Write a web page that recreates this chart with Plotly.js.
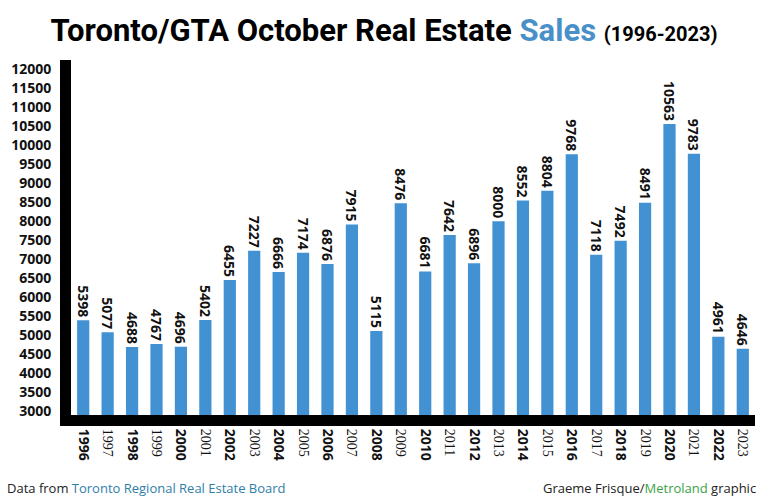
<!DOCTYPE html>
<html>
<head>
<meta charset="utf-8">
<script src="https://cdn.plot.ly/plotly-3.0.1.min.js"></script>
<style>
  html, body { margin: 0; padding: 0; background: #ffffff; }
  #chart { width: 768px; height: 500px; }
</style>
</head>
<body>
<div id="chart"></div>
<script>
// October sales, Toronto/GTA, 1996-2023
const years = [1996, 1997, 1998, 1999, 2000, 2001, 2002, 2003, 2004, 2005,
               2006, 2007, 2008, 2009, 2010, 2011, 2012, 2013, 2014, 2015,
               2016, 2017, 2018, 2019, 2020, 2021, 2022, 2023];
const sales = [5398, 5077, 4688, 4767, 4696, 5402, 6455, 7227, 6666, 7174,
               6876, 7915, 5115, 8476, 6681, 7642, 6896, 8000, 8552, 8804,
               9768, 7118, 7492, 8491, 10563, 9783, 4961, 4646];
const yTicks = [3000, 3500, 4000, 4500, 5000, 5500, 6000, 6500, 7000, 7500,
                8000, 8500, 9000, 9500, 10000, 10500, 11000, 11500, 12000];

const BAR_BLUE = '#4191d3';

// even years in bold sans, odd years in a light serif face
const yearLabels = years.map(y => y % 2 === 0
  ? '<b>' + y + '</b>'
  : '<span style="font-family:\'Liberation Serif\', serif;">' + y + '</span>');

const trace = {
  type: 'bar',
  x: years.map(String),
  y: sales,
  marker: { color: BAR_BLUE },
  text: sales.map(String),
  textposition: 'outside',
  textangle: 90,
  constraintext: 'none',
  cliponaxis: false,
  textfont: { family: 'Open Sans, sans-serif', size: 14, color: '#111', weight: 700 },
  hoverinfo: 'x+y'
};

const layout = {
  width: 768,
  height: 500,
  margin: { l: 71, r: 13, t: 60, b: 85 },
  paper_bgcolor: '#ffffff',
  plot_bgcolor: '#ffffff',
  bargap: 0.5,
  showlegend: false,
  title: {
    text: 'Toronto/GTA October Real Estate <span style="color:#4a90c8;">Sales</span> <span style="font-size:20px;">(1996-2023)</span>',
    x: 0.5,
    xanchor: 'center',
    y: 0.94,
    yanchor: 'middle',
    font: { family: 'Roboto, sans-serif', size: 31, color: '#000', weight: 700 }
  },
  xaxis: {
    type: 'category',
    range: [-0.5, 27.5],
    tickmode: 'array',
    tickvals: years.map(String),
    ticktext: yearLabels,
    tickangle: 90,
    ticks: '',
    ticklen: 0,
    showgrid: false,
    zeroline: false,
    showline: true,
    linecolor: '#000',
    linewidth: 11,
    tickfont: { family: 'Open Sans, sans-serif', size: 14, color: '#111' },
    fixedrange: true
  },
  yaxis: {
    range: [2900, 12250],
    tickmode: 'array',
    tickvals: yTicks,
    ticktext: yTicks.map(String),
    ticks: '',
    showgrid: false,
    zeroline: false,
    showline: true,
    linecolor: '#000',
    linewidth: 11,
    ticklabelstandoff: 6,
    tickfont: { family: 'Open Sans, sans-serif', size: 14, color: '#111', weight: 700 },
    fixedrange: true
  },
  annotations: [
    {
      xref: 'paper', yref: 'paper', x: -0.096, y: -0.205,
      xanchor: 'left', yanchor: 'middle', showarrow: false,
      text: 'Data from <span style="color:#2f7ea8;">Toronto Regional Real Estate Board</span>',
      font: { family: 'Open Sans, sans-serif', size: 13, color: '#222' }
    },
    {
      xref: 'paper', yref: 'paper', x: 1.005, y: -0.205,
      xanchor: 'right', yanchor: 'middle', showarrow: false,
      text: 'Graeme Frisque/<span style="color:#3aa346;">Metroland</span> graphic',
      font: { family: 'Open Sans, sans-serif', size: 13, color: '#222' }
    }
  ]
};

Plotly.newPlot('chart', [trace], layout, { displayModeBar: false, staticPlot: true });
</script>
</body>
</html>
